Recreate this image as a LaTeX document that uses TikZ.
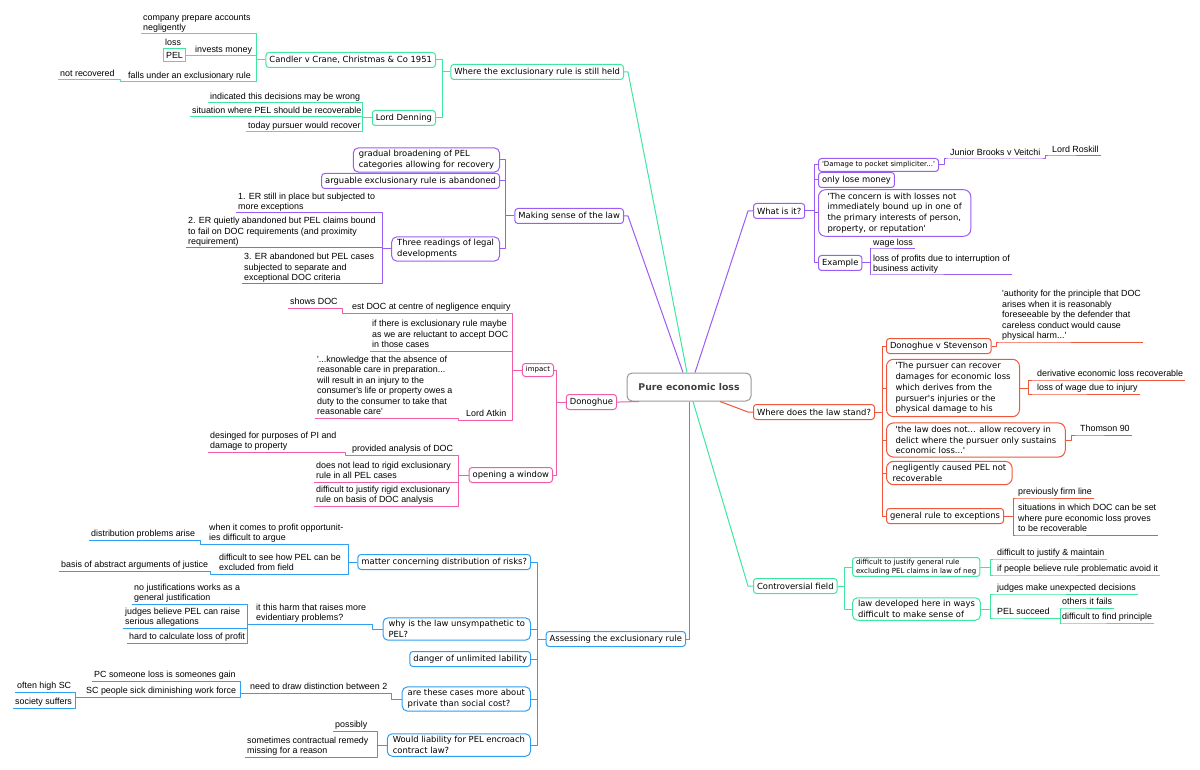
\documentclass[tikz,border=0pt]{standalone}
\usepackage{fontspec}
\usepackage{tikz}
\newfontfamily\boxfont{DejaVu Sans}
\newfontfamily\leaffont{Liberation Sans}
\definecolor{cgreen}{HTML}{3EE6A0}
\definecolor{cpurple}{HTML}{9B5CF6}
\definecolor{cpink}{HTML}{F25AAA}
\definecolor{cblue}{HTML}{2E9FF2}
\definecolor{cred}{HTML}{F2563A}

\begin{document}
\begin{tikzpicture}[x=1pt, y=-1pt,
  hub/.style={draw=black!40, line width=1pt, rounded corners=5pt, fill=white, text=black!75,
    font=\boxfont\bfseries\fontsize{9.3}{11}\selectfont, minimum width=124pt, minimum height=28pt},
  topic/.style={draw, line width=1pt, rounded corners=3pt, fill=white, text=black, align=left,
    font=\boxfont\fontsize{8.4}{10.8}\selectfont, inner xsep=3.5pt, inner ysep=2.6pt, minimum height=15pt},
  ttopic/.style={topic, rounded corners=5pt, inner xsep=5.5pt},
  stopic/.style={topic, font=\boxfont\fontsize{7}{8.6}\selectfont, inner ysep=1.8pt, minimum height=13pt},
  roundtopic/.style={topic, rounded corners=7pt, inner xsep=9pt, inner ysep=3pt},
  leaf/.style={text=black, font=\leaffont\fontsize{8.9}{10.5}\selectfont, align=left,
    inner xsep=2pt, inner ysep=1pt, text depth=2pt, anchor=south west},
  link/.style={line width=1pt, line join=round}]
  \useasboundingbox (0,0) rectangle (1200,770);

  \node[hub] (hub) at (689,387) {Pure economic loss};

  \begin{scope}[color=cgreen]
    \node[topic, anchor=east] (held) at (624,72) {Where the exclusionary rule is still held};
    \node[topic, anchor=east] (candler) at (436,60) {Candler v Crane, Christmas \& Co 1951};
    \node[topic, anchor=east] (denning) at (436,118) {Lord Denning};
    \node[leaf] (acc) at (141,34) {company prepare accounts\\negligently};
    \node[leaf] (invest) at (193,56) {invests money};
    \node[leaf] (loss) at (163,49) {loss};
    \node[leaf, draw, line width=1pt, minimum width=22pt, minimum height=13pt, text depth=0pt] (pel) at (163,62) {PEL};
    \node[leaf] (falls) at (126,82) {falls under an exclusionary rule};
    \node[leaf] (notrec) at (58,80) {not recovered};
    \node[leaf] (ind) at (208,103) {indicated this decisions may be wrong};
    \node[leaf] (sit) at (190,117) {situation where PEL should be recoverable};
    \node[leaf] (today) at (246,132) {today pursuer would recover};
    \draw[link] (held.east) -- ++(4,0) -- ([xshift=-2pt]hub.north);
    \foreach \c in {candler,denning} \draw[link] (held.west) -- ++(-8,0) |- (\c.east);
    \foreach \c in {acc,invest,falls} \draw[link] (candler.west) -- ++(-9,0) |- (\c.south west);
    \foreach \c in {loss,pel} \draw[link] (invest.south west) -- ++(-8,0) |- (\c.south west);
    \draw[link] (falls.south west) -- ++(-6,0) |- (notrec.south west);
    \foreach \c in {ind,sit,today} \draw[link] (denning.west) -- ++(-9,0) |- (\c.south west);

    \node[topic, anchor=west] (contro) at (753,586) {Controversial field};
    \node[stopic, anchor=west] (djust) at (852,567) {difficult to justify general rule\\excluding PEL claims in law of neg};
    \node[ttopic, anchor=west] (lawdev) at (852,609) {law developed here in ways\\difficult to make sense of};
    \node[leaf] (maint) at (995,559) {difficult to justify \& maintain};
    \node[leaf] (avoid) at (995,575) {if people believe rule problematic avoid it};
    \node[leaf] (judges2) at (995,594) {judges make unexpected decisions};
    \node[leaf] (succeed) at (995,618) {PEL succeed};
    \node[leaf] (fails) at (1060,608) {others it fails};
    \node[leaf] (principle) at (1060,623) {difficult to find principle};
    \draw[link] (contro.west) -- ++(-5,0) -- ([xshift=4pt]hub.south);
    \foreach \c in {djust,lawdev} \draw[link] (contro.east) -- ++(7,0) |- (\c.west);
    \foreach \c in {maint,avoid} \draw[link] (djust.east) -- ++(10,0) |- (\c.south west) -- (\c.south east);
    \foreach \c in {judges2,succeed} \draw[link] (lawdev.east) -- ++(10,0) |- (\c.south west) -- (\c.south east);
    \foreach \c in {fails,principle} \draw[link] (succeed.south east) -- ++(9,0) |- (\c.south west) -- (\c.south east);
  \end{scope}

  \begin{scope}[color=cpurple]
    \node[topic, anchor=east] (making) at (624,216) {Making sense of the law};
    \node[ttopic, anchor=east] (grad) at (500,160) {gradual broadening of PEL\\categories allowing for recovery};
    \node[topic, anchor=east] (arg) at (500,181) {arguable exclusionary rule is abandoned};
    \node[ttopic, anchor=east] (three) at (500,249) {Three readings of legal\\developments};
    \node[leaf] (r1) at (236,213) {1. ER still in place but subjected to\\more exceptions};
    \node[leaf] (r2) at (186,248) {2. ER quietly abandoned but PEL claims bound\\to fail on DOC requirements (and proximity\\requirement)};
    \node[leaf] (r3) at (242,284) {3. ER abandoned but PEL cases\\subjected to separate and\\exceptional DOC criteria};
    \draw[link] (making.east) -- ++(4,0) -- ([xshift=-6pt]hub.north);
    \foreach \c in {grad,arg,three} \draw[link] (making.west) -- ++(-9,0) |- (\c.east);
    \foreach \c in {r1,r2,r3} \draw[link] (three.west) -- ++(-9,0) |- (\c.south west);

    \node[topic, anchor=west] (what) at (753,211) {What is it?};
    \node[stopic, anchor=west] (dmg) at (818,165) {'Damage to pocket simpliciter...'};
    \node[topic, anchor=west] (money) at (818,180) {only lose money};
    \node[roundtopic, anchor=west] (concern) at (818,213) {'The concern is with losses not\\immediately bound up in one of\\the primary interests of person,\\property, or reputation'};
    \node[topic, anchor=west] (example) at (818,263) {Example};
    \node[leaf] (junior) at (948,159) {Junior Brooks v Veitchi};
    \node[leaf] (roskill) at (1050,156) {Lord Roskill};
    \node[leaf] (wage) at (871,249) {wage loss};
    \node[leaf] (profits) at (871,275) {loss of profits due to interruption of\\business activity};
    \draw[link] (what.west) -- ++(-5,0) -- ([xshift=6pt]hub.north);
    \foreach \c in {dmg,money,concern,example} \draw[link] (what.east) -- ++(9,0) |- (\c.west);
    \draw[link] (dmg.east) -- ++(5,0) |- (junior.south west) -- (junior.south east)
      -- ++(3,0) |- (roskill.south west) -- (roskill.south east);
    \foreach \c in {wage,profits} \draw[link] (example.east) -- ++(8,0) |- (\c.south west) -- (\c.south east);
  \end{scope}

  \begin{scope}[color=cpink]
    \node[topic, anchor=east] (don) at (617,402) {Donoghue};
    \node[stopic, anchor=east] (impact) at (554,370) {impact};
    \node[topic, anchor=east] (window) at (553,475) {opening a window};
    \node[leaf] (est) at (350,313) {est DOC at centre of negligence enquiry};
    \node[leaf] (shows) at (288,308) {shows DOC};
    \node[leaf] (ifthere) at (370,351) {if there is exclusionary rule maybe\\as we are reluctant to accept DOC\\in those cases};
    \node[leaf] (atkin) at (464,420) {Lord Atkin};
    \node[leaf] (quote) at (315,418) {'...knowledge that the absence of\\reasonable care in preparation...\\will result in an injury to the\\consumer's life or property owes a\\duty to the consumer to take that\\reasonable care'};
    \node[leaf] (prov) at (350,455) {provided analysis of DOC};
    \node[leaf] (design) at (208,452) {desinged for purposes of PI and\\damage to property};
    \node[leaf] (rigid) at (314,482) {does not lead to rigid exclusionary\\rule in all PEL cases};
    \node[leaf] (justify) at (314,506) {difficult to justify rigid exclusionary\\rule on basis of DOC analysis};
    \draw[link] (don.east) -- ++(3,0) -- ([xshift=-50pt]hub.south);
    \foreach \c in {impact,window} \draw[link] (don.west) -- ++(-9,0) |- (\c.east);
    \foreach \c in {est,ifthere,atkin} \draw[link] (impact.west) -- ++(-9,0) |- (\c.south west);
    \draw[link] (est.south west) -- ++(-8,0) |- (shows.south west);
    \draw[link] (atkin.south west) -- ++(-6,0) |- (quote.south west);
    \foreach \c in {prov,rigid,justify} \draw[link] (window.west) -- ++(-10,0) |- (\c.south west);
    \draw[link] (prov.south west) -- ++(-5,0) |- (design.south west);
  \end{scope}

  \begin{scope}[color=cblue]
    \node[topic, anchor=east] (assess) at (686,639) {Assessing the exclusionary rule};
    \node[topic, anchor=east] (risk) at (531,562) {matter concerning distribution of risks?};
    \node[ttopic, anchor=east] (unsym) at (531,629) {why is the law unsympathetic to\\PEL?};
    \node[topic, anchor=east] (danger) at (531,659) {danger of unlimited lability};
    \node[ttopic, anchor=east] (cost) at (531,699) {are these cases more about\\private than social cost?};
    \node[ttopic, anchor=east] (contract) at (531,745) {Would liability for PEL encroach\\contract law?};
    \node[leaf] (profit) at (207,544) {when it comes to profit opportunit-\\ies difficult to argue};
    \node[leaf] (distrib) at (89,540) {distribution problems arise};
    \node[leaf] (excl) at (217,574) {difficult to see how PEL can be\\excluded from field};
    \node[leaf] (basis) at (59,571) {basis of abstract arguments of justice};
    \node[leaf] (harm) at (254,624) {it this harm that raises more\\evidentiary problems?};
    \node[leaf] (nojust) at (132,604) {no justifications works as a\\general justification};
    \node[leaf] (judges) at (123,628) {judges believe PEL can raise\\serious allegations};
    \node[leaf] (hard) at (127,643) {hard to calculate loss of profit};
    \node[leaf] (need) at (248,693) {need to draw distinction between 2};
    \node[leaf] (pc) at (92,681) {PC someone loss is someones gain};
    \node[leaf] (sc) at (84,697) {SC people sick diminishing work force};
    \node[leaf] (high) at (15,692) {often high SC};
    \node[leaf] (suffers) at (13,708) {society suffers};
    \node[leaf] (possibly) at (333,731) {possibly};
    \node[leaf] (missing) at (245,757) {sometimes contractual remedy\\missing for a reason};
    \draw[link] (assess.east) -| (hub.south);
    \foreach \c in {risk,unsym,danger,cost,contract} \draw[link] (assess.west) -- ++(-8,0) |- (\c.east);
    \foreach \c in {profit,excl} \draw[link] (risk.west) -- ++(-9,0) |- (\c.south west);
    \draw[link] (profit.south west) -- ++(-7,0) |- (distrib.south west);
    \draw[link] (excl.south west) -- ++(-7,0) |- (basis.south west);
    \draw[link] (unsym.west) -- ++(-10,0) |- (harm.south west);
    \foreach \c in {nojust,judges,hard} \draw[link] (harm.south west) -- ++(-7,0) |- (\c.south west);
    \draw[link] (cost.west) -- ++(-10,0) |- (need.south west);
    \foreach \c in {pc,sc} \draw[link] (need.south west) -- ++(-8,0) |- (\c.south west);
    \foreach \c in {high,suffers} \draw[link] (sc.south west) -- ++(-9,0) |- (\c.south west);
    \foreach \c in {possibly,missing} \draw[link] (contract.west) -- ++(-9,0) |- (\c.south west);
  \end{scope}

  \begin{scope}[color=cred]
    \node[topic, anchor=west] (stand) at (753,412) {Where does the law stand?};
    \node[topic, anchor=west] (dvs) at (886,346) {Donoghue v Stevenson};
    \node[roundtopic, anchor=west] (pursuer) at (886,388) {'The pursuer can recover\\damages for economic loss\\which derives from the\\pursuer's injuries or the\\physical damage to his};
    \node[roundtopic, anchor=west] (lawnot) at (886,440) {'the law does not... allow recovery in\\delict where the pursuer only sustains\\economic loss...'};
    \node[roundtopic, anchor=west, inner xsep=6pt] (neg) at (886,473) {negligently caused PEL not\\recoverable};
    \node[topic, anchor=west] (general) at (886,516) {general rule to exceptions};
    \node[leaf] (auth) at (1000,342) {'authority for the principle that DOC\\arises when it is reasonably\\foreseeable by the defender that\\careless conduct would cause\\physical harm...'};
    \node[leaf] (deriv) at (1035,380) {derivative economic loss recoverable};
    \node[leaf] (wagei) at (1035,394) {loss of wage due to injury};
    \node[leaf] (thomson) at (1078,435) {Thomson 90};
    \node[leaf] (firm) at (1016,498) {previously firm line};
    \node[leaf] (sitdoc) at (1016,535) {situations in which DOC can be set\\where pure economic loss proves\\to be recoverable};
    \draw[link] (stand.west) -- ++(-5,0) -- ([xshift=31pt]hub.south);
    \foreach \c in {dvs,pursuer,lawnot,neg,general} \draw[link] (stand.east) -- ++(7,0) |- (\c.west);
    \draw[link] (dvs.east) -- ++(5,0) |- (auth.south west) -- (auth.south east);
    \foreach \c in {deriv,wagei} \draw[link] (pursuer.east) -- ++(8,0) |- (\c.south west) -- (\c.south east);
    \draw[link] (lawnot.east) -- ++(6,0) |- (thomson.south west) -- (thomson.south east);
    \foreach \c in {firm,sitdoc} \draw[link] (general.east) -- ++(9,0) |- (\c.south west) -- (\c.south east);
  \end{scope}
\end{tikzpicture}
\end{document}
